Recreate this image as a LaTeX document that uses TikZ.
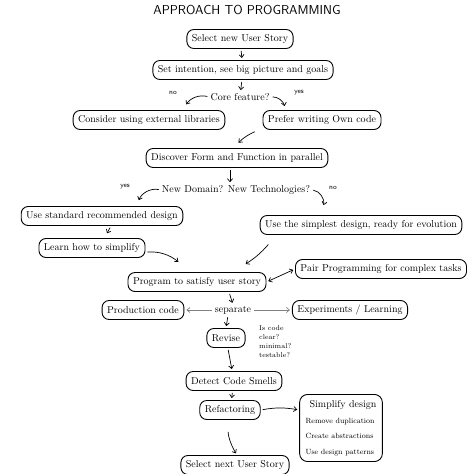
\documentclass[tikz,border=0pt]{standalone}
\usetikzlibrary{arrows.meta}
\begin{document}
\begin{tikzpicture}[x=1pt, y=-1pt,
    stepbox/.style={draw, rounded corners=7pt, line width=0.9pt, inner xsep=5pt, inner ysep=3pt,
      minimum height=19pt, font=\fontsize{10}{12}\selectfont},
    ask/.style={inner sep=1pt, font=\fontsize{10}{12}\selectfont},
    answer/.style={font=\sffamily\fontsize{7}{8}\selectfont},
    arr/.style={-{Straight Barb[length=3pt, width=5pt]}, line width=0.7pt, shorten <=2pt, shorten >=2pt},
    grayarr/.style={arr, draw=gray}]
  \useasboundingbox (0,0) rectangle (474,474);

  % title
  \node[font=\sffamily\fontsize{13}{15}\selectfont] (title) at (247,10) {APPROACH TO PROGRAMMING};

  % top of the flow
  \node[stepbox] (select) at (240,39) {Select new User Story};
  \node[stepbox] (intent) at (243,70) {Set intention, see big picture and goals};
  \node[ask] (core) at (240,97) {Core feature?};
  \node[answer] (coreno) at (173,93) {no};
  \node[answer] (coreyes) at (299,93) {yes};
  \node[stepbox] (extlib) at (149,120) {Consider using external libraries};
  \node[stepbox] (owncode) at (322,120) {Prefer writing Own code};

  % design
  \node[stepbox] (discover) at (237,158) {Discover Form and Function in parallel};
  \node[ask] (domain) at (236,190) {New Domain? New Technologies?};
  \node[answer] (domyes) at (125,187) {yes};
  \node[answer] (domno) at (333,188) {no};
  \node[stepbox] (standard) at (102,216) {Use standard recommended design};
  \node[stepbox] (simplest) at (361,225) {Use the simplest design, ready for evolution};
  \node[stepbox] (learn) at (92,248) {Learn how to simplify};

  % programming
  \node[stepbox] (program) at (197,282) {Program to satisfy user story};
  \node[stepbox] (pair) at (381,269) {Pair Programming for complex tasks};
  \node[ask] (separate) at (233,310) {separate};
  \node[stepbox] (production) at (143,310) {Production code};
  \node[stepbox] (experiments) at (350,310) {Experiments / Learning};
  \node[stepbox] (revise) at (226,338) {Revise};
  \node[align=left, inner sep=0pt, font=\fontsize{7}{9.3}\selectfont, anchor=north west] (check) at (259,325)
    {Is code\\clear?\\minimal?\\testable?};

  % refactoring
  \node[stepbox] (smells) at (234,381) {Detect Code Smells};
  \node[stepbox] (refactor) at (230,410) {Refactoring};
  \node[draw, rounded corners=8pt, line width=0.9pt, align=left, inner xsep=6pt, inner ysep=6pt,
    font=\fontsize{7.5}{15.5}\selectfont] (simplify) at (341,428)
    {\hspace*{4pt}{\fontsize{10}{12}\selectfont Simplify design}\\Remove duplication\\Create abstractions\\Use design patterns};
  \node[stepbox] (next) at (235,465) {Select next User Story};

  % connectors
  \draw[arr] (select) -- (intent);
  \draw[arr] (intent) -- (core);
  \draw[arr] (core.west) to[bend right=35] ([xshift=36pt, yshift=4pt]extlib.north);
  \draw[arr] (core.east) to[bend left=40] ([xshift=-37pt, yshift=2pt]owncode.north);
  \draw[arr] ([xshift=-6pt, yshift=-1pt]owncode.south west) to[bend right=10] ([yshift=4pt]discover.north);
  \draw[arr] ([xshift=-7pt]discover.south) -- ([xshift=-6pt]domain.north);
  \draw[arr] (domain.west) to[bend right=40] ([xshift=36pt, yshift=4pt]standard.north);
  \draw[arr] (domain.east) to[bend left=50] ([xshift=-38pt, yshift=8pt]simplest.north);
  \draw[arr] ([xshift=9pt]standard.south) -- ([xshift=14pt, yshift=3pt]learn.north);
  \draw[arr] ([yshift=-4pt]learn.east) to[bend left=20] ([xshift=-17pt, yshift=9pt]program.north);
  \draw[arr] ([xshift=10pt, yshift=-8pt]simplest.south west) to[bend left=8] ([xshift=47pt, yshift=7pt]program.north);
  \draw[arr, <->, >={Straight Barb[length=3pt, width=5pt]}] (program.east) -- (pair.west);
  \draw[arr] ([xshift=32pt]program.south) -- (separate.north);
  \draw[grayarr] (separate.west) -- (production.east);
  \draw[grayarr] (separate.east) -- (experiments.west);
  \draw[arr] ([xshift=-5pt]separate.south) -- (revise.north);
  \draw[arr] (revise) -- (smells);
  \draw[arr] (smells) -- (refactor);
  \draw[arr] (refactor.east) to[bend left=10] (simplify.west |- refactor.east);
  \draw[arr, shorten <=12pt] (refactor.south) to[bend right=20] ([xshift=2pt]next.north);
\end{tikzpicture}
\end{document}
